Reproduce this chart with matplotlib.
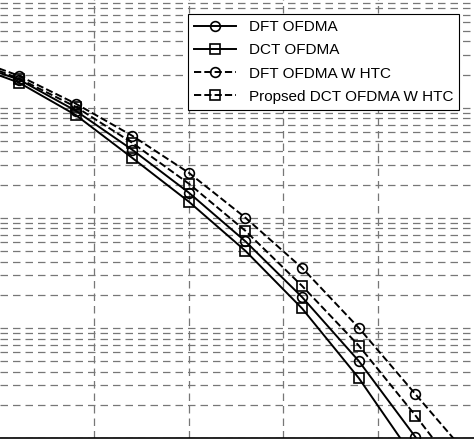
import matplotlib
matplotlib.use("Agg")
import matplotlib.pyplot as plt

plt.rcParams['font.family'] = ['Liberation Sans', 'DejaVu Sans']

# SNR (dB) and BER values for each curve
snr = [-2, 1, 4, 7, 10, 13, 16, 19, 22, 25]
ber_dft = [0.27, 0.18, 0.094, 0.0415, 0.0169, 0.0061, 0.0019, 5.0e-4, 1.02e-4, 1.5e-5]
ber_dct = [0.26, 0.169, 0.086, 0.035, 0.014, 0.005, 0.0015, 3.5e-4, 6.3e-5, 8e-6]
ber_dft_htc = [0.30, 0.195, 0.109, 0.0556, 0.0256, 0.01, 0.0035, 1.0e-3, 2.5e-4, 6.3e-5]
ber_dct_htc = [0.29, 0.184, 0.102, 0.048, 0.0204, 0.0076, 0.0024, 6.9e-4, 1.6e-4, 3.4e-5]

fig = plt.figure(figsize=(4.74, 4.43), dpi=100)
ax = fig.add_axes([0, 5 / 443, 1, 438 / 443])

style = dict(color='black', lw=1.4, ms=7, mfc='none', mew=1.2)
ax.semilogy(snr, ber_dft, '-o', label='DFT OFDMA', **style)
ax.semilogy(snr, ber_dct, '-s', label='DCT OFDMA', **style)
ax.semilogy(snr, ber_dft_htc, '--o', label='DFT OFDMA W HTC', **style)
ax.semilogy(snr, ber_dct_htc, '--s', label='Propsed DCT OFDMA W HTC', **style)

ax.set_xlim(0, 25.1)
ax.set_ylim(1e-4, 0.95)
ax.set_xticks([5, 10, 15, 20])
ax.grid(True, which='major', ls=(0, (6, 4)), color='#777777', lw=0.9)
ax.grid(True, which='minor', axis='y', ls=(0, (6, 4)), color='#777777', lw=0.9)
ax.tick_params(which='both', labelleft=False, labelbottom=False, length=0)
for s in ['top', 'left', 'right']:
    ax.spines[s].set_visible(False)
ax.spines['bottom'].set_linewidth(1.2)

leg = ax.legend(loc='upper right', bbox_to_anchor=(0.985, 0.985), fontsize=11,
                fancybox=False, framealpha=1, edgecolor='black', handlelength=2.8,
                borderpad=0.4, labelspacing=0.6)
leg.get_frame().set_linewidth(0.8)

fig.savefig('out.png', dpi=100)
